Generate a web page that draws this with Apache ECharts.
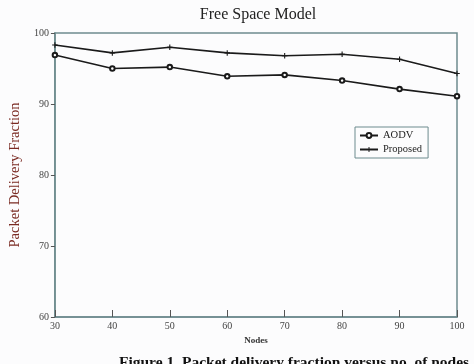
<!DOCTYPE html>
<html><head><meta charset="utf-8">
<script src="https://cdn.jsdelivr.net/npm/echarts@6/dist/echarts.min.js"></script>
<style>html,body{margin:0;padding:0;background:#fcfcfd;}#c{width:474px;height:364px;}</style>
</head><body><div id="c"></div>
<script>
const nodes = [30, 40, 50, 60, 70, 80, 90, 100];
const aodv = [96.9, 95.0, 95.2, 93.9, 94.1, 93.3, 92.1, 91.1];
const proposed = [98.3, 97.2, 98.0, 97.2, 96.8, 97.0, 96.3, 94.3];
const yTicks = [60, 70, 80, 90, 100];
const titleText = 'Free Space Model';
const captionText = 'Figure 1. Packet delivery fraction versus no. of nodes';

const serif = '"Liberation Serif","DejaVu Serif",serif';
const frame = '#6d8b8e';
const plus = 'path://M4,0h2v4h4v2h-4v4h-2v-4h-4v-2h4z';
const chart = echarts.init(document.getElementById('c'));
chart.setOption({
  backgroundColor: '#fcfcfd',
  animation: false,
  title: [
    {text: titleText, left: 253, top: 2, textAlign: 'center',
     textStyle: {fontFamily: serif, fontSize: 16, fontWeight: 'normal', color: '#222'}},
    {text: captionText, left: 289, top: 350, textAlign: 'center',
     textStyle: {fontFamily: serif, fontSize: 15.5, fontWeight: 'bold', color: '#111'}}
  ],
  grid: {left: 50, right: 17, top: 33, bottom: 47, show: true, borderColor: frame, borderWidth: 1.5, backgroundColor: 'transparent'},
  legend: {
    orient: 'vertical', left: 355, top: 127, itemWidth: 18, itemHeight: 6, itemGap: 3,
    padding: [3, 6, 3, 4], borderColor: frame, borderWidth: 1, backgroundColor: '#fcfcfd',
    textStyle: {fontFamily: serif, fontSize: 10.5, color: '#222'},
    data: ['AODV', 'Proposed']
  },
  xAxis: {
    type: 'value', min: 30, max: 100, interval: 10,
    name: 'Nodes', nameLocation: 'middle', nameGap: 17,
    nameTextStyle: {fontFamily: serif, fontSize: 9, fontWeight: 'bold', color: '#333'},
    axisLine: {lineStyle: {color: frame, width: 1.5}},
    axisTick: {inside: true, length: 7, lineStyle: {color: '#555'}},
    axisLabel: {fontFamily: serif, fontSize: 10, color: '#444', margin: 4},
    splitLine: {show: false}
  },
  yAxis: {
    type: 'value', min: 60, max: 100, interval: 10,
    name: 'Packet Delivery Fraction', nameLocation: 'middle', nameGap: 28,
    nameTextStyle: {fontFamily: serif, fontSize: 14.5, color: '#7a2a22'},
    axisLine: {lineStyle: {color: frame, width: 1.5}},
    axisTick: {length: 4, lineStyle: {color: '#555'}},
    axisLabel: {fontFamily: serif, fontSize: 10, color: '#444', margin: 6,
      formatter: v => yTicks.includes(v) ? String(v) : ''},
    splitLine: {show: false}
  },
  series: [
    {name: 'AODV', type: 'line', data: nodes.map((x, i) => [x, aodv[i]]),
     symbol: 'emptyCircle', symbolSize: 4.5, showAllSymbol: true,
     lineStyle: {color: '#1a1a1a', width: 1.6}, itemStyle: {color: '#1a1a1a', borderWidth: 1.1}},
    {name: 'Proposed', type: 'line', data: nodes.map((x, i) => [x, proposed[i]]),
     symbol: plus, symbolSize: 5.5, showAllSymbol: true,
     lineStyle: {color: '#1a1a1a', width: 1.6}, itemStyle: {color: '#1a1a1a'}}
  ]
});
</script></body></html>
